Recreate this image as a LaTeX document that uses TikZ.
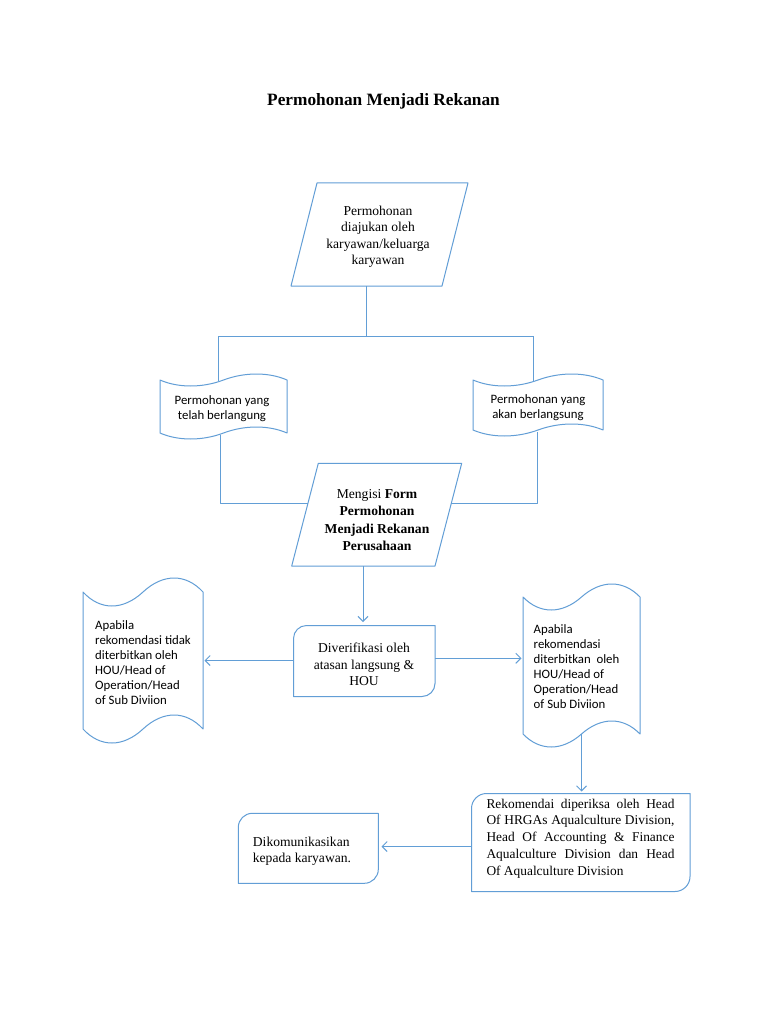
\documentclass[tikz,border=0pt]{standalone}
\usepackage{fontspec}
\setmainfont{Liberation Serif}
\newfontfamily\calib{Carlito}
\usetikzlibrary{arrows.meta}
\definecolor{lnblue}{RGB}{98,158,214}
\tikzset{
  ln/.style={draw=lnblue, line width=1pt, line join=round},
  arr/.style={ln, -{Straight Barb[length=5pt,width=10pt]}},
  sertxt/.style={font=\fontsize{13.6}{16.5}\selectfont, align=center, inner sep=0pt},
  santxt/.style={font=\calib\fontsize{12.8}{15}\selectfont, align=center, inner sep=0pt},
  titletxt/.style={font=\bfseries\fontsize{17.3}{20}\selectfont, inner sep=0pt}
}
\newcommand\tapeshp[5]{%
\draw[ln] (#1,#3)
 .. controls ({#1+(#2-#1)/7},{#3+1.333*#5}) and ({#1+(#2-#1)/3},{#3+1.333*#5}) .. ({(#1+#2)/2},#3)
 .. controls ({#1+2*(#2-#1)/3},{#3-1.333*#5}) and ({#1+6*(#2-#1)/7},{#3-1.333*#5}) .. (#2,#3)
 -- (#2,#4)
 .. controls ({#1+6*(#2-#1)/7},{#4-1.333*#5}) and ({#1+2*(#2-#1)/3},{#4-1.333*#5}) .. ({(#1+#2)/2},#4)
 .. controls ({#1+(#2-#1)/3},{#4+1.333*#5}) and ({#1+(#2-#1)/7},{#4+1.333*#5}) .. (#1,#4)
 -- cycle;}
\newcommand\rbox[5]{%
\draw[ln] (#1,{#2+#5}) .. controls (#1,{#2+0.45*#5}) and ({#1+0.45*#5},#2) .. ({#1+#5},#2)
 -- (#3,#2) -- (#3,{#4-#5}) .. controls (#3,{#4-0.45*#5}) and ({#3-0.45*#5},#4) .. ({#3-#5},#4)
 -- (#1,#4) -- cycle;}
\begin{document}
\begin{tikzpicture}[x=1pt,y=-1pt]
\fill[white] (0,0) rectangle (768,1024);
\useasboundingbox (0,0) rectangle (768,1024);

% title
\node[titletxt, anchor=base] (title) at (383.5,106) {Permohonan Menjadi Rekanan};

% parallelogram 1
\draw[ln] (317,183) -- (468,183) -- (442,286) -- (291,286) -- cycle;
\node[sertxt] (p1) at (378,236.5) {Permohonan\\diajukan oleh\\karyawan/keluarga\\karyawan};

% small tapes
\tapeshp{160}{287}{380}{433}{6}
\node[santxt] (d1) at (222,408.7) {Permohonan yang\\telah berlangung};
\tapeshp{473}{603}{380}{430}{6}
\node[santxt] (d2) at (538,407.2) {Permohonan yang\\akan berlangsung};

% parallelogram 2
\draw[ln] (318.3,463.3) -- (461.7,463.3) -- (435,566) -- (291.7,566) -- cycle;
\node[sertxt, font=\fontsize{13.6}{17.5}\selectfont] (p2) at (377,520) {Mengisi \textbf{Form}\\\textbf{Permohonan}\\\textbf{Menjadi Rekanan}\\\textbf{Perusahaan}};

% verification box
\rbox{293.5}{625.5}{435}{696.5}{13}
\node[sertxt] (v) at (364,664.3) {Diverifikasi oleh\\atasan langsung \&\\HOU};

% tall tapes
\tapeshp{83}{203}{592}{729}{14}
\node[santxt, align=left, anchor=west] (t1) at (95,662.7) {Apabila\\rekomendasi tidak\\diterbitkan oleh\\HOU/Head of\\Operation/Head\\of Sub Diviion};
\tapeshp{523}{640}{597}{734}{13}
\node[santxt, align=left, anchor=west] (t2) at (533.5,666.7) {Apabila\\rekomendasi\\diterbitkan\ \ oleh\\HOU/Head of\\Operation/Head\\of Sub Diviion};

% rekomendasi box
\rbox{471.5}{793.5}{690}{891.5}{15}
\node[sertxt, font=\fontsize{13.4}{16.75}\selectfont, text width=188pt, align=justify] (r) at (580.5,838.3)
 {Rekomendai diperiksa oleh Head\linebreak Of HRGAs Aqualculture Division,\linebreak Head Of Accounting \& Finance\linebreak Aqualculture Division dan Head\linebreak Of Aqualculture Division};

% komunikasi box
\rbox{238.3}{813.3}{378.3}{883.3}{14}
\node[sertxt, align=left, anchor=west] (k) at (252.7,851.3) {Dikomunikasikan\\kepada karyawan.};

% connector points
\coordinate (p1b) at (366,286);
\coordinate (j1) at (366,336);
\coordinate (jl) at (218,336);
\coordinate (jr) at (533,336);
\coordinate (d1t) at (218,381);
\coordinate (d2t) at (533,381);
\coordinate (d1b) at (220,435);
\coordinate (d1c) at (220,503);
\coordinate (p2l) at (308,503);
\coordinate (d2b) at (537,432);
\coordinate (d2c) at (537,503);
\coordinate (p2r) at (451.4,503);
\coordinate (p2b) at (363,566);
\coordinate (vt) at (363,622);
\coordinate (vl) at (293.5,660.5);
\coordinate (t1r) at (204.5,660.5);
\coordinate (vr) at (435,658.3);
\coordinate (t2l) at (521.5,658.3);
\coordinate (t2b) at (581.5,734);
\coordinate (rt) at (581.5,791.5);
\coordinate (rl) at (471.5,846.5);
\coordinate (kr) at (381.5,846.5);

\draw[ln] (p1b) -- (j1);
\draw[ln] (jl) -- (jr);
\draw[ln] (jl) -- (d1t);
\draw[ln] (jr) -- (d2t);
\draw[ln] (d1b) -- (d1c) -- (p2l);
\draw[ln] (d2b) -- (d2c) -- (p2r);
\draw[arr] (p2b) -- (vt);
\draw[arr] (vl) -- (t1r);
\draw[arr] (vr) -- (t2l);
\draw[arr] (t2b) -- (rt);
\draw[arr] (rl) -- (kr);
\end{tikzpicture}
\end{document}
